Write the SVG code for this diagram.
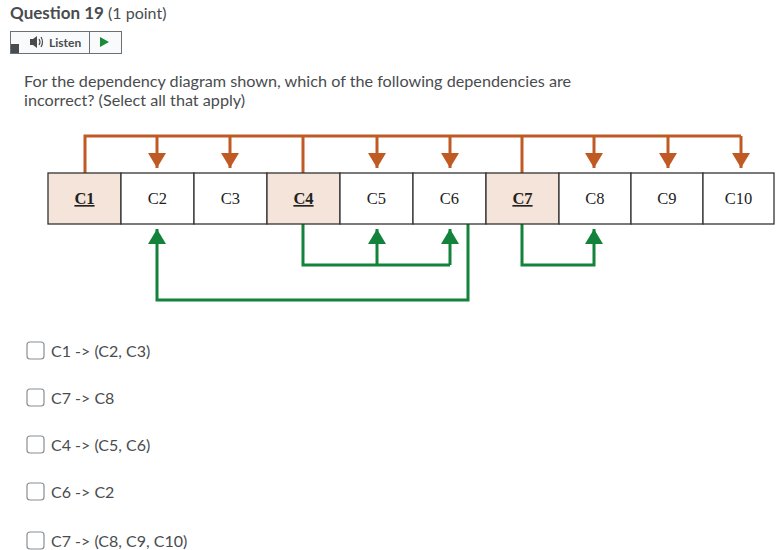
<svg xmlns="http://www.w3.org/2000/svg" width="781" height="550" viewBox="0 0 781 550">
<style>
.ui{font-family:Lato,"Liberation Sans",sans-serif;fill:#494c4e}
.bx{stroke:#333;stroke-width:1.3;fill:#fff}
.pk{fill:#f5e4d9}
.lb{font-family:"Liberation Serif","DejaVu Serif",serif;font-size:16.5px;fill:#222;text-anchor:middle}
.or{stroke:#c05a24;stroke-width:3;fill:none}
.gr{stroke:#13823a;stroke-width:3;fill:none}
.cb{fill:#fff;stroke:#8a8f93;stroke-width:1.2}
.opt{font-family:Lato,"Liberation Sans",sans-serif;font-size:16px;fill:#494c4e}
</style>
<defs>
<marker id="ao" markerWidth="6" markerHeight="6" refX="5" refY="3" orient="auto" markerUnits="strokeWidth"><path d="M0,0 L5,3 L0,6 Z" fill="#c05a24"/></marker>
<marker id="ag" markerWidth="6" markerHeight="6" refX="5" refY="3" orient="auto" markerUnits="strokeWidth"><path d="M0,0 L5,3 L0,6 Z" fill="#13823a"/></marker>
</defs>
<rect width="781" height="550" fill="#fff"/>
<text x="10" y="19" class="ui" font-size="17" font-weight="bold">Question 19 <tspan font-weight="normal" font-size="16">(1 point)</tspan></text>
<g id="listen">
<rect x="10.5" y="31.5" width="111" height="22" fill="#f9fafb" stroke="#6b7075"/>
<line x1="89.5" y1="31.5" x2="89.5" y2="53.5" stroke="#6b7075"/>
<rect x="11" y="44" width="8" height="9" fill="#494c4e"/>
<path d="M30,39 h3 l4,-3 v12 l-4,-3 h-3z" fill="#494c4e"/>
<path d="M39,39 q2,3 0,6 M41,37 q3,5 0,10" stroke="#494c4e" stroke-width="1.2" fill="none"/>
<text x="49" y="47" class="ui" font-size="12" font-weight="bold">Listen</text>
<path d="M100,37 l9,5 l-9,5z" fill="#1a8a3a"/>
</g>
<text x="24" y="87" class="ui" font-size="16.2">For the dependency diagram shown, which of the following dependencies are</text>
<text x="24" y="106" class="ui" font-size="16.2">incorrect? (Select all that apply)</text>
<g id="connectors">
<path class="or" d="M85,173 V136 H741"/>
<path class="or" d="M157,136 V168" marker-end="url(#ao)"/>
<path class="or" d="M230,136 V168" marker-end="url(#ao)"/>
<path class="or" d="M303,136 V173"/>
<path class="or" d="M377,136 V168" marker-end="url(#ao)"/>
<path class="or" d="M450,136 V168" marker-end="url(#ao)"/>
<path class="or" d="M522,136 V173"/>
<path class="or" d="M594,136 V168" marker-end="url(#ao)"/>
<path class="or" d="M668,136 V168" marker-end="url(#ao)"/>
<path class="or" d="M741,136 V168" marker-end="url(#ao)"/>
<path class="gr" d="M303,224 V265 H450"/>
<path class="gr" d="M377,265 V229" marker-end="url(#ag)"/>
<path class="gr" d="M450,265 V229" marker-end="url(#ag)"/>
<path class="gr" d="M468,224 V300 H157 V229" marker-end="url(#ag)"/>
<path class="gr" d="M522,224 V265 H594 V229" marker-end="url(#ag)"/>
</g>
<g id="C1"><rect class="bx pk" x="48" y="173" width="73" height="51"/><text class="lb" x="84.5" y="204" font-weight="bold" text-decoration="underline">C1</text></g>
<g id="C2"><rect class="bx" x="121" y="173" width="73" height="51"/><text class="lb" x="157.5" y="204">C2</text></g>
<g id="C3"><rect class="bx" x="194" y="173" width="73" height="51"/><text class="lb" x="230.5" y="204">C3</text></g>
<g id="C4"><rect class="bx pk" x="267" y="173" width="73" height="51"/><text class="lb" x="303.5" y="204" font-weight="bold" text-decoration="underline">C4</text></g>
<g id="C5"><rect class="bx" x="340" y="173" width="73" height="51"/><text class="lb" x="376.5" y="204">C5</text></g>
<g id="C6"><rect class="bx" x="413" y="173" width="73" height="51"/><text class="lb" x="449.5" y="204">C6</text></g>
<g id="C7"><rect class="bx pk" x="486" y="173" width="73" height="51"/><text class="lb" x="522.5" y="204" font-weight="bold" text-decoration="underline">C7</text></g>
<g id="C8"><rect class="bx" x="559" y="173" width="72" height="51"/><text class="lb" x="595" y="204">C8</text></g>
<g id="C9"><rect class="bx" x="631" y="173" width="72" height="51"/><text class="lb" x="667" y="204">C9</text></g>
<g id="C10"><rect class="bx" x="703" y="173" width="71" height="51"/><text class="lb" x="738.5" y="204">C10</text></g>
<g id="options">
<rect class="cb" x="27" y="342" width="17" height="17" rx="3"/><text class="opt" x="51" y="357">C1 -&gt; (C2, C3)</text>
<rect class="cb" x="27" y="389" width="17" height="17" rx="3"/><text class="opt" x="51" y="404">C7 -&gt; C8</text>
<rect class="cb" x="27" y="436" width="17" height="17" rx="3"/><text class="opt" x="51" y="451">C4 -&gt; (C5, C6)</text>
<rect class="cb" x="27" y="483" width="17" height="17" rx="3"/><text class="opt" x="51" y="498">C6 -&gt; C2</text>
<rect class="cb" x="27" y="532" width="17" height="17" rx="3"/><text class="opt" x="51" y="547">C7 -&gt; (C8, C9, C10)</text>
</g>
</svg>
